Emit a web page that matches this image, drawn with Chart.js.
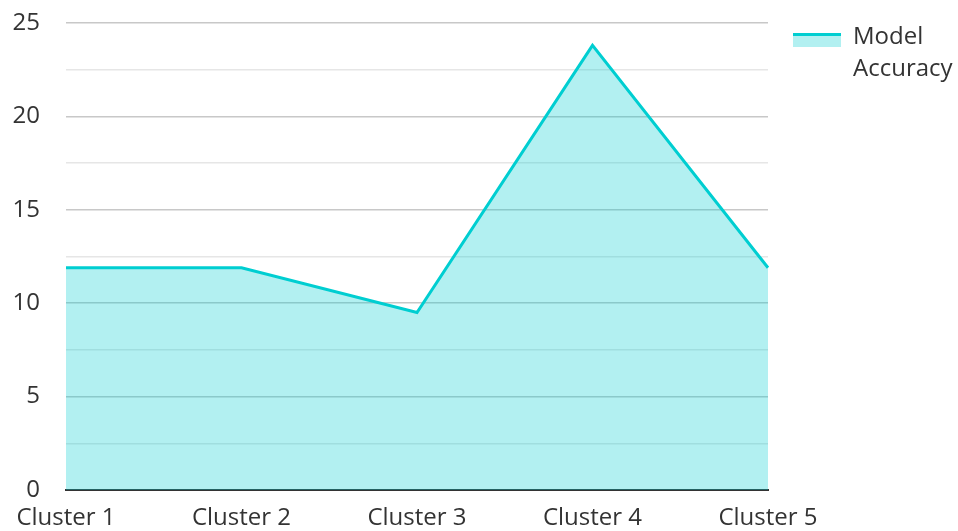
<!DOCTYPE html>
<html lang="en">
<head>
    <meta charset="UTF-8">
    <title>Model Accuracy</title>
    <style>
        html, body {
            margin: 0;
            padding: 0;
            background: #ffffff;
            font-family: "Open Sans", sans-serif;
        }
        .wrap {
            position: relative;
            width: 958px;
            height: 531px;
        }
        .legend {
            position: absolute;
            left: 793px;
            top: 19px;
            display: flex;
            align-items: flex-start;
            color: #333;
            font-size: 24px;
            line-height: 32px;
        }
        .legend .swatch {
            width: 48px;
            height: 11px;
            margin-top: 14px;
            margin-right: 12px;
            background: rgba(0, 206, 209, 0.3);
            border-top: 3px solid #00ced1;
        }
    </style>
    <script src="https://cdn.jsdelivr.net/npm/chart.js"></script>
</head>
<body>
<div class="wrap">
    <canvas id="chart" width="958" height="531"></canvas>
    <div class="legend"><div class="swatch"></div><div>Model<br>Accuracy</div></div>
</div>
<script>
    const clusters = ['Cluster 1', 'Cluster 2', 'Cluster 3', 'Cluster 4', 'Cluster 5'];
    const accuracy = [11.9, 11.9, 9.5, 23.8, 11.9];
    const yTicks = [0, 5, 10, 15, 20, 25];

    const ctx = document.getElementById('chart').getContext('2d');
    new Chart(ctx, {
        type: 'line',
        data: {
            labels: clusters,
            datasets: [{
                label: 'Model Accuracy',
                data: accuracy,
                borderColor: '#00ced1',
                backgroundColor: 'rgba(0, 206, 209, 0.3)',
                borderWidth: 3,
                fill: 'origin',
                tension: 0,
                pointRadius: 0
            }]
        },
        options: {
            responsive: false,
            animation: false,
            layout: {
                padding: { left: 12, right: 190, top: 23, bottom: 0 }
            },
            plugins: {
                legend: { display: false },
                tooltip: { enabled: false }
            },
            scales: {
                x: {
                    offset: false,
                    grid: { display: false, drawTicks: false },
                    border: { display: true, color: '#333', width: 2 },
                    ticks: {
                        color: '#333',
                        padding: 14,
                        maxRotation: 0,
                        font: { family: 'Open Sans', size: 24 }
                    },
                    afterFit: s => {
                        s.paddingLeft = 0;
                        s.paddingRight = 0;
                        s.height = 41;
                    }
                },
                y: {
                    min: 0,
                    max: 25,
                    grid: {
                        drawTicks: false,
                        lineWidth: 1.5,
                        color: c => (c.tick && yTicks.includes(c.tick.value)) ? '#c8c8c8' : '#e6e6e6'
                    },
                    border: { display: false },
                    ticks: {
                        stepSize: 2.5,
                        padding: 26,
                        color: '#333',
                        font: { family: 'Open Sans', size: 24 },
                        callback: v => yTicks.includes(v) ? v : ''
                    },
                    afterFit: s => {
                        s.paddingTop = 0;
                        s.paddingBottom = 0;
                        s.width = 54;
                    }
                }
            }
        }
    });
</script>
</body>
</html>
